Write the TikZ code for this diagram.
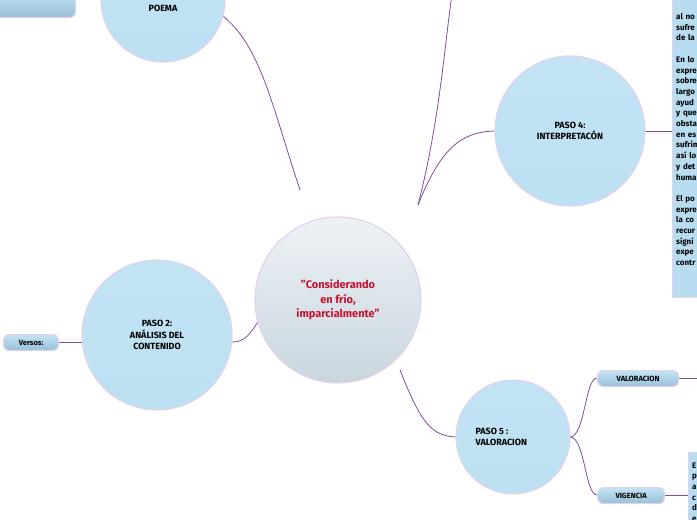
\documentclass[tikz,border=0pt]{standalone}
\usepackage{fontspec}
\setmainfont{Fira Sans}
\definecolor{lnc}{HTML}{7D4E9F}
\definecolor{ctop}{HTML}{C2E3F4}
\definecolor{cmid}{HTML}{98C0D8}
\definecolor{cbot}{HTML}{BCE1F3}
\definecolor{ztop}{HTML}{EEF2F6}
\definecolor{zbot}{HTML}{C9D6DE}
\definecolor{bfill}{HTML}{B9DDF0}
\definecolor{bord}{HTML}{E2D3EC}
\definecolor{tred}{HTML}{C8102E}
\begin{document}
\begin{tikzpicture}[x=1pt,y=-1pt,
  conn/.style={draw=lnc, line width=0.8pt},
  bluec/.style={circle, draw=bord, line width=1.2pt, top color=ctop, middle color=cmid, bottom color=cbot, align=center, font=\fontsize{9}{11.5}\selectfont\bfseries, text=black},
  pill/.style={rounded corners=6pt, draw=bord, line width=1.2pt, top color=ctop, bottom color=cmid, font=\fontsize{7.5}{8}\selectfont\bfseries, inner sep=0pt, anchor=north west},
  tbox/.style={draw=bord, fill=bfill, anchor=north west, align=left, inner sep=4pt, font=\fontsize{8}{10.7}\selectfont\bfseries}
]
\useasboundingbox (0,0) rectangle (697,520);
\clip (0,0) rectangle (697,520);
% connectors
\coordinate (topend) at (452,-5);
\coordinate (vend) at (700,378);
\draw[conn] (418,205) .. controls (440,120) and (445,40) .. (topend);
\draw[conn] (300,190) .. controls (270,100) and (260,40) .. (215,10);
\draw[conn] (418,205) .. controls (440,150) and (460,131) .. (497,131);
\draw[conn] (262,315) .. controls (250,335) and (245,342) .. (232,342);
\draw[conn] (400,370) .. controls (420,420) and (430,437) .. (458,437);
\draw[conn] (58,342) -- (82,342);
\draw[conn] (645,131) -- (672,131);
\draw[conn] (570,437) .. controls (585,437) and (585,378) .. (597,378);
\draw[conn] (570,437) .. controls (585,437) and (585,495) .. (597,495);
\draw[conn] (678,378) -- (vend);
\draw[conn] (664,495) -- (688,495);
% circles
\node[bluec, minimum size=124pt] (poema) at (163,0) {\\[12pt]POEMA};
\node[circle, draw=bord, line width=1.2pt, top color=ztop, bottom color=zbot, minimum size=166pt, align=center, text=tred, font=\fontsize{11}{14.5}\selectfont\bfseries] (center) at (338,300) {"Considerando\\en frío,\\imparcialmente"};
\node[bluec, minimum size=150pt] (p4) at (570,131) {PASO 4:\\INTERPRETACÓN};
\node[bluec, minimum size=150pt] (p2) at (157,335) {PASO 2:\\ANÁLISIS DEL\\CONTENIDO};
\node[bluec, minimum size=114pt] (p5) at (513,437) {};
\node[align=left, anchor=west, font=\fontsize{9}{11.5}\selectfont\bfseries] (p5t) at (472,437) {PASO 5 :\\VALORACION};
% pills
\node[pill, minimum width=85pt, minimum height=27pt] (tl) at (-10,-10) {};
\node[pill, minimum width=55pt, minimum height=16pt] (versos) at (3,334) {Versos:};
\node[pill, minimum width=81pt, minimum height=16pt] (valor) at (597,370) {VALORACION};
\node[pill, minimum width=67pt, minimum height=16pt] (vig) at (597,487) {VIGENCIA};
% text boxes
\node[tbox, minimum height=324pt, text width=60pt] (rbox) at (672,-27) {\phantom{x}\\al no\\sufre\\de la\\[10.7pt]En lo\\expre\\sobre\\largo\\ayud\\y que\\obsta\\en es\\sufrim\\así lo\\y det\\huma\\[10.7pt]El po\\expre\\la co\\recur\\signi\\expe\\contr};
\node[tbox, minimum height=80pt, text width=40pt] (bbox) at (688,452) {E\\p\\a\\c\\d\\e};
\end{tikzpicture}
\end{document}
